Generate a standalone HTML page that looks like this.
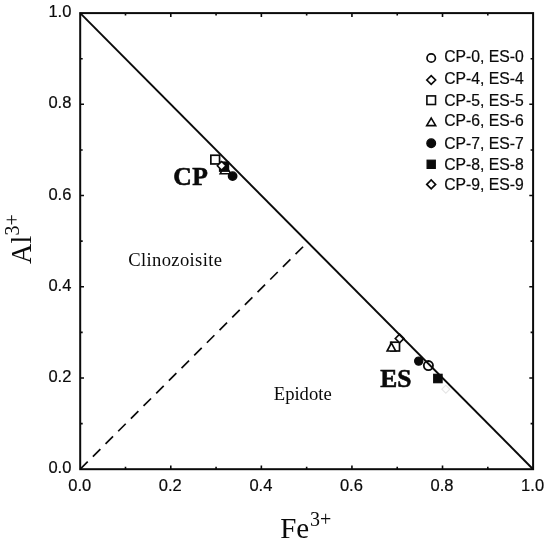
<!DOCTYPE html>
<html><head><meta charset="utf-8"><title>Al3+ vs Fe3+</title>
<style>
html,body{margin:0;padding:0;background:#fff;}
svg{display:block;}
text{fill:#0a0a0a;}
.sans{font-family:"Liberation Sans",Arial,sans-serif;}
.serif{font-family:"Liberation Serif","Times New Roman",serif;}
</style></head><body>
<svg width="550" height="546" viewBox="0 0 550 546">
<rect x="0" y="0" width="550" height="546" fill="#ffffff"/>

<rect x="80.2" y="13.1" width="452.90000000000003" height="456.09999999999997" fill="none" stroke="#0a0a0a" stroke-width="2.0"/>
<path d="M125.49 469.2v-2.5 M125.49 13.1v2.5 M80.2 423.59h2.5 M533.1 423.59h-2.5 M170.78 469.2v-3.8 M170.78 13.1v3.8 M80.2 377.98h3.8 M533.1 377.98h-3.8 M216.07 469.2v-2.5 M216.07 13.1v2.5 M80.2 332.37h2.5 M533.1 332.37h-2.5 M261.36 469.2v-3.8 M261.36 13.1v3.8 M80.2 286.76h3.8 M533.1 286.76h-3.8 M306.65 469.2v-2.5 M306.65 13.1v2.5 M80.2 241.15h2.5 M533.1 241.15h-2.5 M351.94 469.2v-3.8 M351.94 13.1v3.8 M80.2 195.54h3.8 M533.1 195.54h-3.8 M397.23 469.2v-2.5 M397.23 13.1v2.5 M80.2 149.93h2.5 M533.1 149.93h-2.5 M442.52 469.2v-3.8 M442.52 13.1v3.8 M80.2 104.32h3.8 M533.1 104.32h-3.8 M487.81 469.2v-2.5 M487.81 13.1v2.5 M80.2 58.71h2.5 M533.1 58.71h-2.5" stroke="#0a0a0a" stroke-width="1.6" fill="none"/>
<line x1="80.2" y1="469.2" x2="307.2" y2="242.6" stroke="#0a0a0a" stroke-width="1.7" stroke-dasharray="10.6 7.3"/>
<text class="sans" font-size="16.4" textLength="23.0" lengthAdjust="spacingAndGlyphs" stroke="#0a0a0a" stroke-width="0.2" x="68.2" y="491.0">0.0</text>
<text class="sans" font-size="16.4" textLength="23.0" lengthAdjust="spacingAndGlyphs" stroke="#0a0a0a" stroke-width="0.2" x="48.4" y="473.2">0.0</text>
<text class="sans" font-size="16.4" textLength="23.0" lengthAdjust="spacingAndGlyphs" stroke="#0a0a0a" stroke-width="0.2" x="158.8" y="491.0">0.2</text>
<text class="sans" font-size="16.4" textLength="23.0" lengthAdjust="spacingAndGlyphs" stroke="#0a0a0a" stroke-width="0.2" x="48.4" y="382.0">0.2</text>
<text class="sans" font-size="16.4" textLength="23.0" lengthAdjust="spacingAndGlyphs" stroke="#0a0a0a" stroke-width="0.2" x="249.4" y="491.0">0.4</text>
<text class="sans" font-size="16.4" textLength="23.0" lengthAdjust="spacingAndGlyphs" stroke="#0a0a0a" stroke-width="0.2" x="48.4" y="290.8">0.4</text>
<text class="sans" font-size="16.4" textLength="23.0" lengthAdjust="spacingAndGlyphs" stroke="#0a0a0a" stroke-width="0.2" x="339.9" y="491.0">0.6</text>
<text class="sans" font-size="16.4" textLength="23.0" lengthAdjust="spacingAndGlyphs" stroke="#0a0a0a" stroke-width="0.2" x="48.4" y="199.5">0.6</text>
<text class="sans" font-size="16.4" textLength="23.0" lengthAdjust="spacingAndGlyphs" stroke="#0a0a0a" stroke-width="0.2" x="430.5" y="491.0">0.8</text>
<text class="sans" font-size="16.4" textLength="23.0" lengthAdjust="spacingAndGlyphs" stroke="#0a0a0a" stroke-width="0.2" x="48.4" y="108.3">0.8</text>
<text class="sans" font-size="16.4" textLength="23.0" lengthAdjust="spacingAndGlyphs" stroke="#0a0a0a" stroke-width="0.2" x="521.1" y="491.0">1.0</text>
<text class="sans" font-size="16.4" textLength="23.0" lengthAdjust="spacingAndGlyphs" stroke="#0a0a0a" stroke-width="0.2" x="48.4" y="17.1">1.0</text>
<text class="serif" font-size="29" x="280.2" y="537.8">Fe<tspan font-size="20" dx="0.8" dy="-11.6">3+</tspan></text>
<text class="serif" font-size="29" transform="translate(31.3 264) rotate(-90) scale(0.975 1)">Al<tspan font-size="20.5" dx="0.3" dy="-12.6">3+</tspan></text>
<text class="serif" font-size="18.6" x="128.2" y="266.4" textLength="93.8" lengthAdjust="spacing">Clinozoisite</text>
<text class="serif" font-size="18.6" x="273.8" y="400">Epidote</text>
<text class="serif" font-size="25.6" font-weight="bold" letter-spacing="0.6" stroke="#0a0a0a" stroke-width="0.6" x="173.2" y="184.8">CP</text>
<text class="serif" font-size="25.5" font-weight="bold" stroke="#0a0a0a" stroke-width="0.6" x="380.2" y="387.3">ES</text>
<path d="M220.20000000000002 173.7L225.4 164.29999999999998L230.6 173.7Z" fill="#fff" stroke="#0a0a0a" stroke-width="1.6" stroke-linejoin="miter"/>
<rect x="218.9" y="161.4" width="10.3" height="10.5" fill="#0a0a0a"/>
<rect x="210.85" y="155.25" width="8.7" height="8.7" fill="#fff" stroke="#0a0a0a" stroke-width="1.7"/>
<path d="M217.29999999999998 165.8L221.6 161.5L225.9 165.8L221.6 170.10000000000002Z" fill="#fff" stroke="#0a0a0a" stroke-width="1.5"/>
<circle cx="232.6" cy="176.1" r="4.2" fill="#0a0a0a" stroke="#0a0a0a" stroke-width="1.4"/>
<path d="M441.8 389.2L445.8 385.2L449.8 389.2L445.8 393.2Z" fill="#fff" stroke="#e6e6e6" stroke-width="1.1"/>
<rect x="390.70000000000005" y="342.20000000000005" width="8.8" height="8.8" fill="#fff" stroke="#0a0a0a" stroke-width="1.7"/>
<path d="M387.09999999999997 351.0L391.4 343.0L395.7 351.0Z" fill="#fff" stroke="#0a0a0a" stroke-width="1.6" stroke-linejoin="miter"/>
<path d="M395.3 338.5L399.6 334.2L403.90000000000003 338.5L399.6 342.8Z" fill="#fff" stroke="#0a0a0a" stroke-width="1.7"/>
<circle cx="418.7" cy="361.1" r="4.1" fill="#0a0a0a" stroke="#0a0a0a" stroke-width="1.2"/>
<circle cx="428.4" cy="365.6" r="4.6" fill="#fff" stroke="#0a0a0a" stroke-width="1.8"/>
<rect x="433.7" y="374.3" width="8.4" height="8.4" fill="#0a0a0a" stroke="#0a0a0a" stroke-width="1.2"/>
<line x1="80.2" y1="13.1" x2="533.1" y2="469.2" stroke="#0a0a0a" stroke-width="1.95"/>
<circle cx="431.2" cy="58" r="4.2" fill="#fff" stroke="#0a0a0a" stroke-width="1.7"/>
<text class="sans" font-size="15.9" x="444.2" y="62.2" textLength="79.6" lengthAdjust="spacingAndGlyphs" stroke="#0a0a0a" stroke-width="0.2">CP-0, ES-0</text>
<path d="M426.8 80L431.2 75.6L435.59999999999997 80L431.2 84.4Z" fill="#fff" stroke="#0a0a0a" stroke-width="1.7"/>
<text class="sans" font-size="15.9" x="444.2" y="84.0" textLength="79.6" lengthAdjust="spacingAndGlyphs" stroke="#0a0a0a" stroke-width="0.2">CP-4, ES-4</text>
<rect x="426.9" y="95.9" width="8.6" height="8.6" fill="#fff" stroke="#0a0a0a" stroke-width="1.6"/>
<text class="sans" font-size="15.9" x="444.2" y="105.5" textLength="79.6" lengthAdjust="spacingAndGlyphs" stroke="#0a0a0a" stroke-width="0.2">CP-5, ES-5</text>
<path d="M426.7 125.60000000000001L431.2 118.00000000000001L435.7 125.60000000000001Z" fill="#fff" stroke="#0a0a0a" stroke-width="1.6" stroke-linejoin="miter"/>
<text class="sans" font-size="15.9" x="444.2" y="126.1" textLength="79.6" lengthAdjust="spacingAndGlyphs" stroke="#0a0a0a" stroke-width="0.2">CP-6, ES-6</text>
<circle cx="431.2" cy="143.2" r="4.3" fill="#0a0a0a" stroke="#0a0a0a" stroke-width="1.4"/>
<text class="sans" font-size="15.9" x="444.2" y="148.5" textLength="79.6" lengthAdjust="spacingAndGlyphs" stroke="#0a0a0a" stroke-width="0.2">CP-7, ES-7</text>
<rect x="427.09999999999997" y="160.20000000000002" width="8.2" height="8.2" fill="#0a0a0a" stroke="#0a0a0a" stroke-width="1.2"/>
<text class="sans" font-size="15.9" x="444.2" y="170.1" textLength="79.6" lengthAdjust="spacingAndGlyphs" stroke="#0a0a0a" stroke-width="0.2">CP-8, ES-8</text>
<path d="M426.8 184.4L431.2 180.0L435.59999999999997 184.4L431.2 188.8Z" fill="#fff" stroke="#0a0a0a" stroke-width="1.7"/>
<text class="sans" font-size="15.9" x="444.2" y="189.8" textLength="79.6" lengthAdjust="spacingAndGlyphs" stroke="#0a0a0a" stroke-width="0.2">CP-9, ES-9</text>
</svg></body></html>
